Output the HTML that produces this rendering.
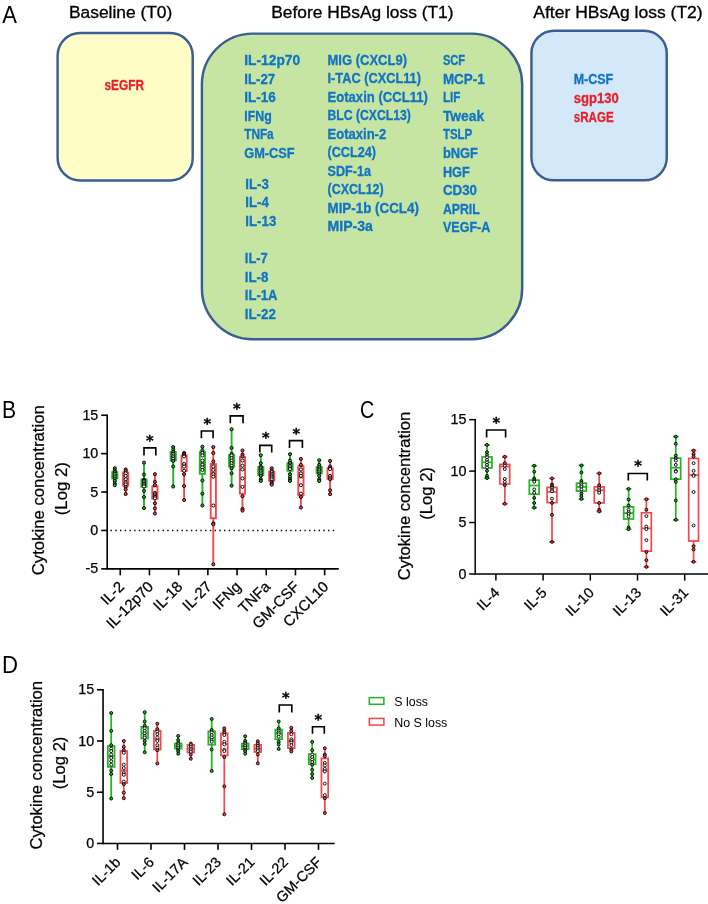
<!DOCTYPE html>
<html lang="en">
<head>
<meta charset="utf-8">
<title>Cytokine profile figure</title>
<style>
html,body{margin:0;padding:0;background:#fff;}
body{width:708px;height:904px;overflow:hidden;font-family:"Liberation Sans",Arial,sans-serif;}
svg{display:block;}
</style>
</head>
<body>
<svg width="708" height="904" viewBox="0 0 708 904" font-family="'Liberation Sans', Arial, sans-serif">
<rect width="708" height="904" fill="#fff"/>
<text x="2.30" y="23.10" font-size="23" fill="#000" textLength="14.7" lengthAdjust="spacingAndGlyphs">A</text>
<text x="69.00" y="18.30" font-size="16.2" fill="#000" textLength="103.2" lengthAdjust="spacingAndGlyphs" stroke="#000" stroke-width="0.3">Baseline (T0)</text>
<text x="271.20" y="18.30" font-size="16.2" fill="#000" textLength="182.3" lengthAdjust="spacingAndGlyphs" stroke="#000" stroke-width="0.3">Before HBsAg loss (T1)</text>
<text x="533.30" y="18.30" font-size="16.2" fill="#000" textLength="169.4" lengthAdjust="spacingAndGlyphs" stroke="#000" stroke-width="0.3">After HBsAg loss (T2)</text>
<rect x="57.6" y="33.05" width="135.1" height="147.5" rx="22.5" ry="22.5" fill="#FEFDC8" stroke="#3A5E94" stroke-width="2.45"/>
<rect x="201.9" y="33.6" width="320.3" height="305.6" rx="50.9" ry="50.9" fill="#C6E5A3" stroke="#3A5E94" stroke-width="2.45"/>
<rect x="531.45" y="30.7" width="135.3" height="149.65" rx="22.5" ry="22.5" fill="#D3E9FA" stroke="#3A5E94" stroke-width="2.45"/>
<text x="104.40" y="89.80" font-size="14.3" fill="#E8202A" font-weight="bold" stroke="#E8202A" stroke-width="0.3" textLength="39.6" lengthAdjust="spacingAndGlyphs">sEGFR</text>
<text x="573.70" y="84.30" font-size="14.3" fill="#1273C4" font-weight="bold" stroke="#1273C4" stroke-width="0.3" textLength="39.4" lengthAdjust="spacingAndGlyphs">M-CSF</text>
<text x="573.70" y="103.00" font-size="14.3" fill="#E8202A" font-weight="bold" stroke="#E8202A" stroke-width="0.3" textLength="45.2" lengthAdjust="spacingAndGlyphs">sgp130</text>
<text x="573.70" y="121.60" font-size="14.3" fill="#E8202A" font-weight="bold" stroke="#E8202A" stroke-width="0.3" textLength="40.0" lengthAdjust="spacingAndGlyphs">sRAGE</text>
<text x="244.20" y="65.30" font-size="14.3" fill="#1273C4" font-weight="bold" stroke="#1273C4" stroke-width="0.3" textLength="56.0" lengthAdjust="spacingAndGlyphs">IL-12p70</text>
<text x="244.20" y="83.70" font-size="14.3" fill="#1273C4" font-weight="bold" stroke="#1273C4" stroke-width="0.3" textLength="31.0" lengthAdjust="spacingAndGlyphs">IL-27</text>
<text x="244.20" y="102.20" font-size="14.3" fill="#1273C4" font-weight="bold" stroke="#1273C4" stroke-width="0.3" textLength="31.6" lengthAdjust="spacingAndGlyphs">IL-16</text>
<text x="244.20" y="120.60" font-size="14.3" fill="#1273C4" font-weight="bold" stroke="#1273C4" stroke-width="0.3" textLength="27.5" lengthAdjust="spacingAndGlyphs">IFNg</text>
<text x="244.20" y="139.10" font-size="14.3" fill="#1273C4" font-weight="bold" stroke="#1273C4" stroke-width="0.3" textLength="29.5" lengthAdjust="spacingAndGlyphs">TNFa</text>
<text x="244.20" y="157.80" font-size="14.3" fill="#1273C4" font-weight="bold" stroke="#1273C4" stroke-width="0.3" textLength="50.5" lengthAdjust="spacingAndGlyphs">GM-CSF</text>
<text x="245.30" y="188.50" font-size="14.3" fill="#1273C4" font-weight="bold" stroke="#1273C4" stroke-width="0.3" textLength="23.6" lengthAdjust="spacingAndGlyphs">IL-3</text>
<text x="245.30" y="207.20" font-size="14.3" fill="#1273C4" font-weight="bold" stroke="#1273C4" stroke-width="0.3" textLength="23.6" lengthAdjust="spacingAndGlyphs">IL-4</text>
<text x="245.30" y="225.70" font-size="14.3" fill="#1273C4" font-weight="bold" stroke="#1273C4" stroke-width="0.3" textLength="31.0" lengthAdjust="spacingAndGlyphs">IL-13</text>
<text x="244.80" y="263.00" font-size="14.3" fill="#1273C4" font-weight="bold" stroke="#1273C4" stroke-width="0.3" textLength="23.0" lengthAdjust="spacingAndGlyphs">IL-7</text>
<text x="244.80" y="281.60" font-size="14.3" fill="#1273C4" font-weight="bold" stroke="#1273C4" stroke-width="0.3" textLength="23.6" lengthAdjust="spacingAndGlyphs">IL-8</text>
<text x="244.80" y="300.30" font-size="14.3" fill="#1273C4" font-weight="bold" stroke="#1273C4" stroke-width="0.3" textLength="32.6" lengthAdjust="spacingAndGlyphs">IL-1A</text>
<text x="244.80" y="318.90" font-size="14.3" fill="#1273C4" font-weight="bold" stroke="#1273C4" stroke-width="0.3" textLength="31.0" lengthAdjust="spacingAndGlyphs">IL-22</text>
<text x="327.50" y="64.50" font-size="14.3" fill="#1273C4" font-weight="bold" stroke="#1273C4" stroke-width="0.3" textLength="79.5" lengthAdjust="spacingAndGlyphs">MIG (CXCL9)</text>
<text x="327.50" y="83.05" font-size="14.3" fill="#1273C4" font-weight="bold" stroke="#1273C4" stroke-width="0.3" textLength="93.5" lengthAdjust="spacingAndGlyphs">I-TAC (CXCL11)</text>
<text x="327.50" y="101.60" font-size="14.3" fill="#1273C4" font-weight="bold" stroke="#1273C4" stroke-width="0.3" textLength="100.4" lengthAdjust="spacingAndGlyphs">Eotaxin (CCL11)</text>
<text x="327.50" y="120.15" font-size="14.3" fill="#1273C4" font-weight="bold" stroke="#1273C4" stroke-width="0.3" textLength="83.3" lengthAdjust="spacingAndGlyphs">BLC (CXCL13)</text>
<text x="327.50" y="138.70" font-size="14.3" fill="#1273C4" font-weight="bold" stroke="#1273C4" stroke-width="0.3" textLength="58.7" lengthAdjust="spacingAndGlyphs">Eotaxin-2</text>
<text x="327.50" y="157.25" font-size="14.3" fill="#1273C4" font-weight="bold" stroke="#1273C4" stroke-width="0.3" textLength="48.5" lengthAdjust="spacingAndGlyphs">(CCL24)</text>
<text x="327.50" y="175.80" font-size="14.3" fill="#1273C4" font-weight="bold" stroke="#1273C4" stroke-width="0.3" textLength="43.5" lengthAdjust="spacingAndGlyphs">SDF-1a</text>
<text x="327.50" y="194.35" font-size="14.3" fill="#1273C4" font-weight="bold" stroke="#1273C4" stroke-width="0.3" textLength="56.2" lengthAdjust="spacingAndGlyphs">(CXCL12)</text>
<text x="327.50" y="212.90" font-size="14.3" fill="#1273C4" font-weight="bold" stroke="#1273C4" stroke-width="0.3" textLength="91.4" lengthAdjust="spacingAndGlyphs">MIP-1b (CCL4)</text>
<text x="327.50" y="231.45" font-size="14.3" fill="#1273C4" font-weight="bold" stroke="#1273C4" stroke-width="0.3" textLength="45.4" lengthAdjust="spacingAndGlyphs">MIP-3a</text>
<text x="442.90" y="64.90" font-size="14.3" fill="#1273C4" font-weight="bold" stroke="#1273C4" stroke-width="0.3" textLength="22.3" lengthAdjust="spacingAndGlyphs">SCF</text>
<text x="442.90" y="83.51" font-size="14.3" fill="#1273C4" font-weight="bold" stroke="#1273C4" stroke-width="0.3" textLength="41.8" lengthAdjust="spacingAndGlyphs">MCP-1</text>
<text x="442.90" y="102.12" font-size="14.3" fill="#1273C4" font-weight="bold" stroke="#1273C4" stroke-width="0.3" textLength="17.6" lengthAdjust="spacingAndGlyphs">LIF</text>
<text x="442.90" y="120.73" font-size="14.3" fill="#1273C4" font-weight="bold" stroke="#1273C4" stroke-width="0.3" textLength="41.2" lengthAdjust="spacingAndGlyphs">Tweak</text>
<text x="442.90" y="139.34" font-size="14.3" fill="#1273C4" font-weight="bold" stroke="#1273C4" stroke-width="0.3" textLength="29.4" lengthAdjust="spacingAndGlyphs">TSLP</text>
<text x="442.90" y="157.95" font-size="14.3" fill="#1273C4" font-weight="bold" stroke="#1273C4" stroke-width="0.3" textLength="35.0" lengthAdjust="spacingAndGlyphs">bNGF</text>
<text x="442.90" y="176.56" font-size="14.3" fill="#1273C4" font-weight="bold" stroke="#1273C4" stroke-width="0.3" textLength="26.9" lengthAdjust="spacingAndGlyphs">HGF</text>
<text x="442.90" y="195.17" font-size="14.3" fill="#1273C4" font-weight="bold" stroke="#1273C4" stroke-width="0.3" textLength="34.1" lengthAdjust="spacingAndGlyphs">CD30</text>
<text x="442.90" y="213.78" font-size="14.3" fill="#1273C4" font-weight="bold" stroke="#1273C4" stroke-width="0.3" textLength="36.9" lengthAdjust="spacingAndGlyphs">APRIL</text>
<text x="442.90" y="232.39" font-size="14.3" fill="#1273C4" font-weight="bold" stroke="#1273C4" stroke-width="0.3" textLength="47.4" lengthAdjust="spacingAndGlyphs">VEGF-A</text>
<text x="2.10" y="417.80" font-size="23" fill="#000" textLength="14.1" lengthAdjust="spacingAndGlyphs">B</text>
<line x1="110.50" y1="530.45" x2="336.00" y2="530.45" stroke="#000" stroke-width="1.4" stroke-dasharray="1.4 3.33"/>
<g stroke="#22B422" stroke-width="1.9" fill="none">
<line x1="114.80" y1="468.23" x2="114.80" y2="472.13"/>
<line x1="114.80" y1="478.40" x2="114.80" y2="485.18"/>
<rect x="112.20" y="472.13" width="5.20" height="6.27" fill="#fff"/>
<line x1="112.20" y1="475.35" x2="117.40" y2="475.35"/>
</g>
<g stroke="#000" stroke-width="0.95" fill="none">
<circle cx="114.80" cy="468.23" r="1.55" fill="#22B422"/>
<circle cx="114.80" cy="470.43" r="1.55" fill="#22B422"/>
<circle cx="114.80" cy="472.13" r="1.55" fill="#22B422"/>
<circle cx="114.80" cy="473.82" r="1.55" fill="#fff"/>
<circle cx="114.80" cy="475.35" r="1.55" fill="#fff"/>
<circle cx="114.80" cy="476.71" r="1.55" fill="#fff"/>
<circle cx="114.80" cy="478.40" r="1.55" fill="#22B422"/>
<circle cx="114.80" cy="480.95" r="1.55" fill="#22B422"/>
<circle cx="114.80" cy="483.49" r="1.55" fill="#22B422"/>
<circle cx="114.80" cy="485.18" r="1.55" fill="#22B422"/>
</g>
<g stroke="#F2484B" stroke-width="1.9" fill="none">
<line x1="125.70" y1="469.42" x2="125.70" y2="472.47"/>
<line x1="125.70" y1="485.52" x2="125.70" y2="494.00"/>
<rect x="123.10" y="472.47" width="5.20" height="13.05" fill="#fff"/>
<line x1="123.10" y1="479.25" x2="128.30" y2="479.25"/>
</g>
<g stroke="#000" stroke-width="0.95" fill="none">
<circle cx="125.70" cy="469.42" r="1.55" fill="#F2484B"/>
<circle cx="125.70" cy="471.11" r="1.55" fill="#F2484B"/>
<circle cx="125.70" cy="473.32" r="1.55" fill="#fff"/>
<circle cx="125.70" cy="475.86" r="1.55" fill="#fff"/>
<circle cx="125.70" cy="479.25" r="1.55" fill="#fff"/>
<circle cx="125.70" cy="482.64" r="1.55" fill="#fff"/>
<circle cx="125.70" cy="484.34" r="1.55" fill="#fff"/>
<circle cx="125.70" cy="486.88" r="1.55" fill="#F2484B"/>
<circle cx="125.70" cy="489.42" r="1.55" fill="#F2484B"/>
<circle cx="125.70" cy="494.00" r="1.55" fill="#F2484B"/>
</g>
<g stroke="#22B422" stroke-width="1.9" fill="none">
<line x1="144.00" y1="462.64" x2="144.00" y2="479.59"/>
<line x1="144.00" y1="486.88" x2="144.00" y2="508.07"/>
<rect x="141.40" y="479.59" width="5.20" height="7.29" fill="#fff"/>
<line x1="141.40" y1="483.15" x2="146.60" y2="483.15"/>
</g>
<g stroke="#000" stroke-width="0.95" fill="none">
<circle cx="144.00" cy="462.64" r="1.55" fill="#22B422"/>
<circle cx="144.00" cy="474.50" r="1.55" fill="#22B422"/>
<circle cx="144.00" cy="479.59" r="1.55" fill="#22B422"/>
<circle cx="144.00" cy="480.95" r="1.55" fill="#fff"/>
<circle cx="144.00" cy="482.30" r="1.55" fill="#fff"/>
<circle cx="144.00" cy="483.66" r="1.55" fill="#fff"/>
<circle cx="144.00" cy="485.18" r="1.55" fill="#fff"/>
<circle cx="144.00" cy="486.37" r="1.55" fill="#fff"/>
<circle cx="144.00" cy="490.78" r="1.55" fill="#22B422"/>
<circle cx="144.00" cy="497.05" r="1.55" fill="#22B422"/>
<circle cx="144.00" cy="508.07" r="1.55" fill="#22B422"/>
</g>
<g stroke="#F2484B" stroke-width="1.9" fill="none">
<line x1="154.90" y1="474.16" x2="154.90" y2="486.37"/>
<line x1="154.90" y1="498.75" x2="154.90" y2="513.50"/>
<rect x="152.30" y="486.37" width="5.20" height="12.38" fill="#fff"/>
<line x1="152.30" y1="494.17" x2="157.50" y2="494.17"/>
</g>
<g stroke="#000" stroke-width="0.95" fill="none">
<circle cx="154.90" cy="474.16" r="1.55" fill="#F2484B"/>
<circle cx="154.90" cy="481.79" r="1.55" fill="#F2484B"/>
<circle cx="154.90" cy="485.18" r="1.55" fill="#F2484B"/>
<circle cx="154.90" cy="492.81" r="1.55" fill="#fff"/>
<circle cx="154.90" cy="494.17" r="1.55" fill="#fff"/>
<circle cx="154.90" cy="495.53" r="1.55" fill="#fff"/>
<circle cx="154.90" cy="496.88" r="1.55" fill="#fff"/>
<circle cx="154.90" cy="498.24" r="1.55" fill="#fff"/>
<circle cx="154.90" cy="503.32" r="1.55" fill="#F2484B"/>
<circle cx="154.90" cy="508.41" r="1.55" fill="#F2484B"/>
<circle cx="154.90" cy="513.50" r="1.55" fill="#F2484B"/>
</g>
<g stroke="#22B422" stroke-width="1.9" fill="none">
<line x1="173.20" y1="447.04" x2="173.20" y2="452.12"/>
<line x1="173.20" y1="460.60" x2="173.20" y2="486.54"/>
<rect x="170.60" y="452.12" width="5.20" height="8.48" fill="#fff"/>
<line x1="170.60" y1="456.70" x2="175.80" y2="456.70"/>
</g>
<g stroke="#000" stroke-width="0.95" fill="none">
<circle cx="173.20" cy="447.04" r="1.55" fill="#22B422"/>
<circle cx="173.20" cy="449.58" r="1.55" fill="#22B422"/>
<circle cx="173.20" cy="451.79" r="1.55" fill="#22B422"/>
<circle cx="173.20" cy="453.82" r="1.55" fill="#fff"/>
<circle cx="173.20" cy="455.51" r="1.55" fill="#fff"/>
<circle cx="173.20" cy="457.21" r="1.55" fill="#fff"/>
<circle cx="173.20" cy="458.91" r="1.55" fill="#fff"/>
<circle cx="173.20" cy="460.94" r="1.55" fill="#22B422"/>
<circle cx="173.20" cy="466.53" r="1.55" fill="#22B422"/>
<circle cx="173.20" cy="486.54" r="1.55" fill="#22B422"/>
</g>
<g stroke="#F2484B" stroke-width="1.9" fill="none">
<line x1="184.10" y1="452.97" x2="184.10" y2="455.51"/>
<line x1="184.10" y1="471.11" x2="184.10" y2="499.93"/>
<rect x="181.50" y="455.51" width="5.20" height="15.60" fill="#fff"/>
<line x1="181.50" y1="465.18" x2="186.70" y2="465.18"/>
</g>
<g stroke="#000" stroke-width="0.95" fill="none">
<circle cx="184.10" cy="452.97" r="1.55" fill="#F2484B"/>
<circle cx="184.10" cy="454.16" r="1.55" fill="#F2484B"/>
<circle cx="184.10" cy="455.51" r="1.55" fill="#F2484B"/>
<circle cx="184.10" cy="456.53" r="1.55" fill="#fff"/>
<circle cx="184.10" cy="463.99" r="1.55" fill="#fff"/>
<circle cx="184.10" cy="466.53" r="1.55" fill="#fff"/>
<circle cx="184.10" cy="470.77" r="1.55" fill="#fff"/>
<circle cx="184.10" cy="474.16" r="1.55" fill="#F2484B"/>
<circle cx="184.10" cy="486.03" r="1.55" fill="#F2484B"/>
<circle cx="184.10" cy="499.93" r="1.55" fill="#F2484B"/>
</g>
<g stroke="#22B422" stroke-width="1.9" fill="none">
<line x1="202.40" y1="446.70" x2="202.40" y2="452.12"/>
<line x1="202.40" y1="473.82" x2="202.40" y2="505.53"/>
<rect x="199.80" y="452.12" width="5.20" height="21.70" fill="#fff"/>
<line x1="199.80" y1="462.80" x2="205.00" y2="462.80"/>
</g>
<g stroke="#000" stroke-width="0.95" fill="none">
<circle cx="202.40" cy="446.70" r="1.55" fill="#22B422"/>
<circle cx="202.40" cy="450.43" r="1.55" fill="#22B422"/>
<circle cx="202.40" cy="452.97" r="1.55" fill="#fff"/>
<circle cx="202.40" cy="455.51" r="1.55" fill="#fff"/>
<circle cx="202.40" cy="460.60" r="1.55" fill="#fff"/>
<circle cx="202.40" cy="464.84" r="1.55" fill="#fff"/>
<circle cx="202.40" cy="467.38" r="1.55" fill="#fff"/>
<circle cx="202.40" cy="469.93" r="1.55" fill="#fff"/>
<circle cx="202.40" cy="480.44" r="1.55" fill="#22B422"/>
<circle cx="202.40" cy="493.66" r="1.55" fill="#22B422"/>
<circle cx="202.40" cy="505.53" r="1.55" fill="#22B422"/>
</g>
<g stroke="#F2484B" stroke-width="1.9" fill="none">
<line x1="213.30" y1="447.04" x2="213.30" y2="463.99"/>
<line x1="213.30" y1="518.24" x2="213.30" y2="564.36"/>
<rect x="210.70" y="463.99" width="5.20" height="54.25" fill="#fff"/>
<line x1="210.70" y1="472.81" x2="215.90" y2="472.81"/>
</g>
<g stroke="#000" stroke-width="0.95" fill="none">
<circle cx="213.30" cy="447.04" r="1.55" fill="#F2484B"/>
<circle cx="213.30" cy="452.97" r="1.55" fill="#F2484B"/>
<circle cx="213.30" cy="461.45" r="1.55" fill="#F2484B"/>
<circle cx="213.30" cy="466.53" r="1.55" fill="#fff"/>
<circle cx="213.30" cy="469.93" r="1.55" fill="#fff"/>
<circle cx="213.30" cy="474.16" r="1.55" fill="#fff"/>
<circle cx="213.30" cy="476.71" r="1.55" fill="#fff"/>
<circle cx="213.30" cy="505.53" r="1.55" fill="#fff"/>
<circle cx="213.30" cy="523.33" r="1.55" fill="#F2484B"/>
<circle cx="213.30" cy="524.35" r="1.55" fill="#F2484B"/>
<circle cx="213.30" cy="564.36" r="1.55" fill="#F2484B"/>
</g>
<g stroke="#22B422" stroke-width="1.9" fill="none">
<line x1="231.60" y1="429.24" x2="231.60" y2="455.18"/>
<line x1="231.60" y1="466.53" x2="231.60" y2="485.69"/>
<rect x="229.00" y="455.18" width="5.20" height="11.36" fill="#fff"/>
<line x1="229.00" y1="461.28" x2="234.20" y2="461.28"/>
</g>
<g stroke="#000" stroke-width="0.95" fill="none">
<circle cx="231.60" cy="429.24" r="1.55" fill="#22B422"/>
<circle cx="231.60" cy="447.89" r="1.55" fill="#22B422"/>
<circle cx="231.60" cy="453.82" r="1.55" fill="#22B422"/>
<circle cx="231.60" cy="455.51" r="1.55" fill="#fff"/>
<circle cx="231.60" cy="458.06" r="1.55" fill="#fff"/>
<circle cx="231.60" cy="460.60" r="1.55" fill="#fff"/>
<circle cx="231.60" cy="463.14" r="1.55" fill="#fff"/>
<circle cx="231.60" cy="465.69" r="1.55" fill="#fff"/>
<circle cx="231.60" cy="468.23" r="1.55" fill="#22B422"/>
<circle cx="231.60" cy="473.32" r="1.55" fill="#22B422"/>
<circle cx="231.60" cy="485.69" r="1.55" fill="#22B422"/>
</g>
<g stroke="#F2484B" stroke-width="1.9" fill="none">
<line x1="242.50" y1="450.43" x2="242.50" y2="457.21"/>
<line x1="242.50" y1="493.66" x2="242.50" y2="510.61"/>
<rect x="239.90" y="457.21" width="5.20" height="36.45" fill="#fff"/>
<line x1="239.90" y1="469.59" x2="245.10" y2="469.59"/>
</g>
<g stroke="#000" stroke-width="0.95" fill="none">
<circle cx="242.50" cy="450.43" r="1.55" fill="#F2484B"/>
<circle cx="242.50" cy="454.67" r="1.55" fill="#F2484B"/>
<circle cx="242.50" cy="456.36" r="1.55" fill="#F2484B"/>
<circle cx="242.50" cy="460.60" r="1.55" fill="#fff"/>
<circle cx="242.50" cy="465.69" r="1.55" fill="#fff"/>
<circle cx="242.50" cy="469.42" r="1.55" fill="#fff"/>
<circle cx="242.50" cy="478.40" r="1.55" fill="#fff"/>
<circle cx="242.50" cy="486.88" r="1.55" fill="#fff"/>
<circle cx="242.50" cy="496.20" r="1.55" fill="#F2484B"/>
<circle cx="242.50" cy="508.92" r="1.55" fill="#F2484B"/>
<circle cx="242.50" cy="510.61" r="1.55" fill="#F2484B"/>
</g>
<g stroke="#22B422" stroke-width="1.9" fill="none">
<line x1="260.80" y1="455.18" x2="260.80" y2="467.04"/>
<line x1="260.80" y1="475.01" x2="260.80" y2="480.95"/>
<rect x="258.20" y="467.04" width="5.20" height="7.97" fill="#fff"/>
<line x1="258.20" y1="471.28" x2="263.40" y2="471.28"/>
</g>
<g stroke="#000" stroke-width="0.95" fill="none">
<circle cx="260.80" cy="455.18" r="1.55" fill="#22B422"/>
<circle cx="260.80" cy="463.14" r="1.55" fill="#22B422"/>
<circle cx="260.80" cy="466.53" r="1.55" fill="#22B422"/>
<circle cx="260.80" cy="468.23" r="1.55" fill="#fff"/>
<circle cx="260.80" cy="469.59" r="1.55" fill="#fff"/>
<circle cx="260.80" cy="470.94" r="1.55" fill="#fff"/>
<circle cx="260.80" cy="472.47" r="1.55" fill="#fff"/>
<circle cx="260.80" cy="474.16" r="1.55" fill="#fff"/>
<circle cx="260.80" cy="475.86" r="1.55" fill="#22B422"/>
<circle cx="260.80" cy="479.25" r="1.55" fill="#22B422"/>
<circle cx="260.80" cy="480.95" r="1.55" fill="#22B422"/>
</g>
<g stroke="#F2484B" stroke-width="1.9" fill="none">
<line x1="271.70" y1="468.23" x2="271.70" y2="471.62"/>
<line x1="271.70" y1="480.61" x2="271.70" y2="484.68"/>
<rect x="269.10" y="471.62" width="5.20" height="8.99" fill="#fff"/>
<line x1="269.10" y1="476.71" x2="274.30" y2="476.71"/>
</g>
<g stroke="#000" stroke-width="0.95" fill="none">
<circle cx="271.70" cy="468.23" r="1.55" fill="#F2484B"/>
<circle cx="271.70" cy="470.43" r="1.55" fill="#F2484B"/>
<circle cx="271.70" cy="472.13" r="1.55" fill="#fff"/>
<circle cx="271.70" cy="473.82" r="1.55" fill="#fff"/>
<circle cx="271.70" cy="475.18" r="1.55" fill="#fff"/>
<circle cx="271.70" cy="476.54" r="1.55" fill="#fff"/>
<circle cx="271.70" cy="477.89" r="1.55" fill="#fff"/>
<circle cx="271.70" cy="479.59" r="1.55" fill="#fff"/>
<circle cx="271.70" cy="481.79" r="1.55" fill="#F2484B"/>
<circle cx="271.70" cy="483.49" r="1.55" fill="#F2484B"/>
<circle cx="271.70" cy="484.68" r="1.55" fill="#F2484B"/>
</g>
<g stroke="#22B422" stroke-width="1.9" fill="none">
<line x1="290.00" y1="454.16" x2="290.00" y2="463.14"/>
<line x1="290.00" y1="470.77" x2="290.00" y2="480.95"/>
<rect x="287.40" y="463.14" width="5.20" height="7.63" fill="#fff"/>
<line x1="287.40" y1="467.38" x2="292.60" y2="467.38"/>
</g>
<g stroke="#000" stroke-width="0.95" fill="none">
<circle cx="290.00" cy="454.16" r="1.55" fill="#22B422"/>
<circle cx="290.00" cy="460.60" r="1.55" fill="#22B422"/>
<circle cx="290.00" cy="463.14" r="1.55" fill="#22B422"/>
<circle cx="290.00" cy="465.69" r="1.55" fill="#fff"/>
<circle cx="290.00" cy="467.38" r="1.55" fill="#fff"/>
<circle cx="290.00" cy="469.08" r="1.55" fill="#fff"/>
<circle cx="290.00" cy="474.16" r="1.55" fill="#22B422"/>
<circle cx="290.00" cy="476.71" r="1.55" fill="#22B422"/>
<circle cx="290.00" cy="479.25" r="1.55" fill="#22B422"/>
<circle cx="290.00" cy="480.95" r="1.55" fill="#22B422"/>
</g>
<g stroke="#F2484B" stroke-width="1.9" fill="none">
<line x1="300.90" y1="458.91" x2="300.90" y2="466.20"/>
<line x1="300.90" y1="495.36" x2="300.90" y2="507.56"/>
<rect x="298.30" y="466.20" width="5.20" height="29.16" fill="#fff"/>
<line x1="298.30" y1="477.55" x2="303.50" y2="477.55"/>
</g>
<g stroke="#000" stroke-width="0.95" fill="none">
<circle cx="300.90" cy="458.91" r="1.55" fill="#F2484B"/>
<circle cx="300.90" cy="464.84" r="1.55" fill="#F2484B"/>
<circle cx="300.90" cy="469.42" r="1.55" fill="#fff"/>
<circle cx="300.90" cy="473.32" r="1.55" fill="#fff"/>
<circle cx="300.90" cy="475.86" r="1.55" fill="#fff"/>
<circle cx="300.90" cy="485.18" r="1.55" fill="#fff"/>
<circle cx="300.90" cy="493.66" r="1.55" fill="#fff"/>
<circle cx="300.90" cy="497.05" r="1.55" fill="#F2484B"/>
<circle cx="300.90" cy="507.56" r="1.55" fill="#F2484B"/>
</g>
<g stroke="#22B422" stroke-width="1.9" fill="none">
<line x1="319.20" y1="460.26" x2="319.20" y2="467.04"/>
<line x1="319.20" y1="473.32" x2="319.20" y2="480.95"/>
<rect x="316.60" y="467.04" width="5.20" height="6.27" fill="#fff"/>
<line x1="316.60" y1="470.10" x2="321.80" y2="470.10"/>
</g>
<g stroke="#000" stroke-width="0.95" fill="none">
<circle cx="319.20" cy="460.26" r="1.55" fill="#22B422"/>
<circle cx="319.20" cy="464.84" r="1.55" fill="#22B422"/>
<circle cx="319.20" cy="467.38" r="1.55" fill="#fff"/>
<circle cx="319.20" cy="468.74" r="1.55" fill="#fff"/>
<circle cx="319.20" cy="470.10" r="1.55" fill="#fff"/>
<circle cx="319.20" cy="471.62" r="1.55" fill="#fff"/>
<circle cx="319.20" cy="473.32" r="1.55" fill="#22B422"/>
<circle cx="319.20" cy="475.86" r="1.55" fill="#22B422"/>
<circle cx="319.20" cy="479.25" r="1.55" fill="#22B422"/>
<circle cx="319.20" cy="480.95" r="1.55" fill="#22B422"/>
</g>
<g stroke="#F2484B" stroke-width="1.9" fill="none">
<line x1="330.10" y1="460.94" x2="330.10" y2="468.23"/>
<line x1="330.10" y1="478.91" x2="330.10" y2="494.17"/>
<rect x="327.50" y="468.23" width="5.20" height="10.68" fill="#fff"/>
<line x1="327.50" y1="476.37" x2="332.70" y2="476.37"/>
</g>
<g stroke="#000" stroke-width="0.95" fill="none">
<circle cx="330.10" cy="460.94" r="1.55" fill="#F2484B"/>
<circle cx="330.10" cy="466.53" r="1.55" fill="#F2484B"/>
<circle cx="330.10" cy="468.23" r="1.55" fill="#F2484B"/>
<circle cx="330.10" cy="469.08" r="1.55" fill="#fff"/>
<circle cx="330.10" cy="475.86" r="1.55" fill="#fff"/>
<circle cx="330.10" cy="477.55" r="1.55" fill="#fff"/>
<circle cx="330.10" cy="479.25" r="1.55" fill="#F2484B"/>
<circle cx="330.10" cy="490.27" r="1.55" fill="#F2484B"/>
<circle cx="330.10" cy="494.17" r="1.55" fill="#F2484B"/>
</g>
<g stroke="#000" stroke-width="1.6" fill="none" stroke-linecap="butt">
<line x1="107.20" y1="414.45" x2="107.20" y2="569.65"/>
<line x1="107.20" y1="568.85" x2="338.80" y2="568.85"/>
<line x1="101.20" y1="568.85" x2="107.20" y2="568.85"/>
<line x1="101.20" y1="530.45" x2="107.20" y2="530.45"/>
<line x1="101.20" y1="492.05" x2="107.20" y2="492.05"/>
<line x1="101.20" y1="453.65" x2="107.20" y2="453.65"/>
<line x1="101.20" y1="415.25" x2="107.20" y2="415.25"/>
<line x1="120.25" y1="568.85" x2="120.25" y2="575.35"/>
<line x1="149.45" y1="568.85" x2="149.45" y2="575.35"/>
<line x1="178.65" y1="568.85" x2="178.65" y2="575.35"/>
<line x1="207.85" y1="568.85" x2="207.85" y2="575.35"/>
<line x1="237.05" y1="568.85" x2="237.05" y2="575.35"/>
<line x1="266.25" y1="568.85" x2="266.25" y2="575.35"/>
<line x1="295.45" y1="568.85" x2="295.45" y2="575.35"/>
<line x1="324.65" y1="568.85" x2="324.65" y2="575.35"/>
</g>
<text x="98.30" y="573.47" font-size="14.3" fill="#000" text-anchor="end" stroke="#000" stroke-width="0.25">-5</text>
<text x="98.30" y="535.07" font-size="14.3" fill="#000" text-anchor="end" stroke="#000" stroke-width="0.25">0</text>
<text x="98.30" y="496.67" font-size="14.3" fill="#000" text-anchor="end" stroke="#000" stroke-width="0.25">5</text>
<text x="98.30" y="458.27" font-size="14.3" fill="#000" text-anchor="end" stroke="#000" stroke-width="0.25">10</text>
<text x="98.30" y="419.87" font-size="14.3" fill="#000" text-anchor="end" stroke="#000" stroke-width="0.25">15</text>
<text transform="translate(125.05,587.55) rotate(-45)" font-size="15" text-anchor="end" fill="#000" stroke="#000" stroke-width="0.25">IL-2</text>
<text transform="translate(154.25,587.55) rotate(-45)" font-size="15" text-anchor="end" fill="#000" stroke="#000" stroke-width="0.25">IL-12p70</text>
<text transform="translate(183.45,587.55) rotate(-45)" font-size="15" text-anchor="end" fill="#000" stroke="#000" stroke-width="0.25">IL-18</text>
<text transform="translate(212.65,587.55) rotate(-45)" font-size="15" text-anchor="end" fill="#000" stroke="#000" stroke-width="0.25">IL-27</text>
<text transform="translate(241.85,587.55) rotate(-45)" font-size="15" text-anchor="end" fill="#000" stroke="#000" stroke-width="0.25">IFNg</text>
<text transform="translate(271.05,587.55) rotate(-45)" font-size="15" text-anchor="end" fill="#000" stroke="#000" stroke-width="0.25">TNFa</text>
<text transform="translate(300.25,587.55) rotate(-45)" font-size="15" text-anchor="end" fill="#000" stroke="#000" stroke-width="0.25">GM-CSF</text>
<text transform="translate(329.45,587.55) rotate(-45)" font-size="15" text-anchor="end" fill="#000" stroke="#000" stroke-width="0.25">CXCL10</text>
<path d="M144.00,455.50 V447.90 H155.80 V455.50" fill="none" stroke="#000" stroke-width="1.65" stroke-linejoin="miter"/>
<text x="149.90" y="445.24" font-size="14.5" fill="#000" font-weight="bold" text-anchor="middle" stroke="#000" stroke-width="0.4" font-family="'DejaVu Sans', sans-serif">*</text>
<path d="M201.40,438.20 V431.00 H213.10 V438.20" fill="none" stroke="#000" stroke-width="1.65" stroke-linejoin="miter"/>
<text x="207.20" y="427.94" font-size="14.5" fill="#000" font-weight="bold" text-anchor="middle" stroke="#000" stroke-width="0.4" font-family="'DejaVu Sans', sans-serif">*</text>
<path d="M230.30,423.20 V415.90 H243.00 V423.20" fill="none" stroke="#000" stroke-width="1.65" stroke-linejoin="miter"/>
<text x="236.70" y="412.54" font-size="14.5" fill="#000" font-weight="bold" text-anchor="middle" stroke="#000" stroke-width="0.4" font-family="'DejaVu Sans', sans-serif">*</text>
<path d="M259.80,452.50 V445.30 H271.70 V452.50" fill="none" stroke="#000" stroke-width="1.65" stroke-linejoin="miter"/>
<text x="265.80" y="442.34" font-size="14.5" fill="#000" font-weight="bold" text-anchor="middle" stroke="#000" stroke-width="0.4" font-family="'DejaVu Sans', sans-serif">*</text>
<path d="M289.50,447.90 V440.60 H302.40 V447.90" fill="none" stroke="#000" stroke-width="1.65" stroke-linejoin="miter"/>
<text x="296.20" y="437.74" font-size="14.5" fill="#000" font-weight="bold" text-anchor="middle" stroke="#000" stroke-width="0.4" font-family="'DejaVu Sans', sans-serif">*</text>
<text transform="translate(44.20,490.20) rotate(-90)" font-size="17" text-anchor="middle" fill="#000" stroke="#000" stroke-width="0.25" textLength="170" lengthAdjust="spacingAndGlyphs">Cytokine concentration</text>
<text transform="translate(66.80,488.70) rotate(-90)" font-size="17" text-anchor="middle" fill="#000" stroke="#000" stroke-width="0.25" textLength="53" lengthAdjust="spacingAndGlyphs">(Log 2)</text>
<text x="360.00" y="417.90" font-size="23" fill="#000" textLength="14.2" lengthAdjust="spacingAndGlyphs">C</text>
<g stroke="#22B422" stroke-width="1.7" fill="none">
<line x1="487.00" y1="444.93" x2="487.00" y2="456.94"/>
<line x1="487.00" y1="467.94" x2="487.00" y2="478.09"/>
<line x1="484.20" y1="444.93" x2="489.80" y2="444.93"/>
<line x1="484.20" y1="478.09" x2="489.80" y2="478.09"/>
<rect x="482.10" y="456.94" width="9.80" height="11.00" fill="#fff"/>
<line x1="482.10" y1="462.35" x2="491.90" y2="462.35"/>
</g>
<g stroke="#000" stroke-width="0.95" fill="none">
<circle cx="487.00" cy="444.93" r="1.45" fill="#22B422"/>
<circle cx="487.00" cy="452.20" r="1.45" fill="#22B422"/>
<circle cx="487.00" cy="454.74" r="1.45" fill="#22B422"/>
<circle cx="487.00" cy="457.28" r="1.45" fill="#fff"/>
<circle cx="487.00" cy="459.82" r="1.45" fill="#fff"/>
<circle cx="487.00" cy="462.35" r="1.45" fill="#fff"/>
<circle cx="487.00" cy="464.89" r="1.45" fill="#fff"/>
<circle cx="487.00" cy="467.43" r="1.45" fill="#fff"/>
<circle cx="487.00" cy="470.81" r="1.45" fill="#22B422"/>
<circle cx="487.00" cy="475.89" r="1.45" fill="#22B422"/>
<circle cx="487.00" cy="478.09" r="1.45" fill="#22B422"/>
</g>
<g stroke="#F2484B" stroke-width="1.7" fill="none">
<line x1="504.80" y1="456.77" x2="504.80" y2="464.38"/>
<line x1="504.80" y1="484.01" x2="504.80" y2="503.80"/>
<line x1="502.00" y1="456.77" x2="507.60" y2="456.77"/>
<line x1="502.00" y1="503.80" x2="507.60" y2="503.80"/>
<rect x="499.90" y="464.38" width="9.80" height="19.62" fill="#fff"/>
<line x1="499.90" y1="466.58" x2="509.70" y2="466.58"/>
</g>
<g stroke="#000" stroke-width="0.95" fill="none">
<circle cx="504.80" cy="456.77" r="1.45" fill="#F2484B"/>
<circle cx="504.80" cy="463.20" r="1.45" fill="#F2484B"/>
<circle cx="504.80" cy="465.74" r="1.45" fill="#fff"/>
<circle cx="504.80" cy="469.12" r="1.45" fill="#fff"/>
<circle cx="504.80" cy="478.93" r="1.45" fill="#fff"/>
<circle cx="504.80" cy="481.81" r="1.45" fill="#fff"/>
<circle cx="504.80" cy="485.19" r="1.45" fill="#F2484B"/>
<circle cx="504.80" cy="503.80" r="1.45" fill="#F2484B"/>
</g>
<g stroke="#22B422" stroke-width="1.7" fill="none">
<line x1="534.20" y1="465.74" x2="534.20" y2="480.12"/>
<line x1="534.20" y1="494.16" x2="534.20" y2="507.69"/>
<line x1="531.40" y1="465.74" x2="537.00" y2="465.74"/>
<line x1="531.40" y1="507.69" x2="537.00" y2="507.69"/>
<rect x="529.30" y="480.12" width="9.80" height="14.04" fill="#fff"/>
<line x1="529.30" y1="485.53" x2="539.10" y2="485.53"/>
</g>
<g stroke="#000" stroke-width="0.95" fill="none">
<circle cx="534.20" cy="465.74" r="1.45" fill="#22B422"/>
<circle cx="534.20" cy="471.66" r="1.45" fill="#22B422"/>
<circle cx="534.20" cy="478.42" r="1.45" fill="#22B422"/>
<circle cx="534.20" cy="480.12" r="1.45" fill="#22B422"/>
<circle cx="534.20" cy="481.81" r="1.45" fill="#fff"/>
<circle cx="534.20" cy="489.42" r="1.45" fill="#fff"/>
<circle cx="534.20" cy="492.80" r="1.45" fill="#fff"/>
<circle cx="534.20" cy="497.88" r="1.45" fill="#22B422"/>
<circle cx="534.20" cy="502.95" r="1.45" fill="#22B422"/>
<circle cx="534.20" cy="507.69" r="1.45" fill="#22B422"/>
</g>
<g stroke="#F2484B" stroke-width="1.7" fill="none">
<line x1="552.00" y1="478.42" x2="552.00" y2="487.39"/>
<line x1="552.00" y1="502.61" x2="552.00" y2="541.86"/>
<line x1="549.20" y1="478.42" x2="554.80" y2="478.42"/>
<line x1="549.20" y1="541.86" x2="554.80" y2="541.86"/>
<rect x="547.10" y="487.39" width="9.80" height="15.22" fill="#fff"/>
<line x1="547.10" y1="491.96" x2="556.90" y2="491.96"/>
</g>
<g stroke="#000" stroke-width="0.95" fill="none">
<circle cx="552.00" cy="478.42" r="1.45" fill="#F2484B"/>
<circle cx="552.00" cy="484.35" r="1.45" fill="#F2484B"/>
<circle cx="552.00" cy="486.04" r="1.45" fill="#F2484B"/>
<circle cx="552.00" cy="487.73" r="1.45" fill="#fff"/>
<circle cx="552.00" cy="489.42" r="1.45" fill="#fff"/>
<circle cx="552.00" cy="491.11" r="1.45" fill="#fff"/>
<circle cx="552.00" cy="498.72" r="1.45" fill="#fff"/>
<circle cx="552.00" cy="502.95" r="1.45" fill="#F2484B"/>
<circle cx="552.00" cy="514.79" r="1.45" fill="#F2484B"/>
<circle cx="552.00" cy="541.86" r="1.45" fill="#F2484B"/>
</g>
<g stroke="#22B422" stroke-width="1.7" fill="none">
<line x1="581.40" y1="465.40" x2="581.40" y2="483.16"/>
<line x1="581.40" y1="491.11" x2="581.40" y2="499.06"/>
<line x1="578.60" y1="465.40" x2="584.20" y2="465.40"/>
<line x1="578.60" y1="499.06" x2="584.20" y2="499.06"/>
<rect x="576.50" y="483.16" width="9.80" height="7.95" fill="#fff"/>
<line x1="576.50" y1="486.88" x2="586.30" y2="486.88"/>
</g>
<g stroke="#000" stroke-width="0.95" fill="none">
<circle cx="581.40" cy="465.40" r="1.45" fill="#22B422"/>
<circle cx="581.40" cy="472.50" r="1.45" fill="#22B422"/>
<circle cx="581.40" cy="480.96" r="1.45" fill="#22B422"/>
<circle cx="581.40" cy="483.50" r="1.45" fill="#fff"/>
<circle cx="581.40" cy="485.19" r="1.45" fill="#fff"/>
<circle cx="581.40" cy="486.88" r="1.45" fill="#fff"/>
<circle cx="581.40" cy="489.42" r="1.45" fill="#fff"/>
<circle cx="581.40" cy="493.65" r="1.45" fill="#22B422"/>
<circle cx="581.40" cy="496.19" r="1.45" fill="#22B422"/>
<circle cx="581.40" cy="499.06" r="1.45" fill="#22B422"/>
</g>
<g stroke="#F2484B" stroke-width="1.7" fill="none">
<line x1="599.20" y1="473.35" x2="599.20" y2="486.88"/>
<line x1="599.20" y1="502.95" x2="599.20" y2="511.41"/>
<line x1="596.40" y1="473.35" x2="602.00" y2="473.35"/>
<line x1="596.40" y1="511.41" x2="602.00" y2="511.41"/>
<rect x="594.30" y="486.88" width="9.80" height="16.07" fill="#fff"/>
<line x1="594.30" y1="490.27" x2="604.10" y2="490.27"/>
</g>
<g stroke="#000" stroke-width="0.95" fill="none">
<circle cx="599.20" cy="473.35" r="1.45" fill="#F2484B"/>
<circle cx="599.20" cy="485.19" r="1.45" fill="#F2484B"/>
<circle cx="599.20" cy="487.73" r="1.45" fill="#fff"/>
<circle cx="599.20" cy="489.42" r="1.45" fill="#fff"/>
<circle cx="599.20" cy="491.11" r="1.45" fill="#fff"/>
<circle cx="599.20" cy="492.80" r="1.45" fill="#fff"/>
<circle cx="599.20" cy="502.95" r="1.45" fill="#F2484B"/>
<circle cx="599.20" cy="509.72" r="1.45" fill="#F2484B"/>
<circle cx="599.20" cy="511.41" r="1.45" fill="#F2484B"/>
</g>
<g stroke="#22B422" stroke-width="1.7" fill="none">
<line x1="628.60" y1="488.91" x2="628.60" y2="506.84"/>
<line x1="628.60" y1="519.02" x2="628.60" y2="529.17"/>
<line x1="625.80" y1="488.91" x2="631.40" y2="488.91"/>
<line x1="625.80" y1="529.17" x2="631.40" y2="529.17"/>
<rect x="623.70" y="506.84" width="9.80" height="12.18" fill="#fff"/>
<line x1="623.70" y1="513.10" x2="633.50" y2="513.10"/>
</g>
<g stroke="#000" stroke-width="0.95" fill="none">
<circle cx="628.60" cy="488.91" r="1.45" fill="#22B422"/>
<circle cx="628.60" cy="499.57" r="1.45" fill="#22B422"/>
<circle cx="628.60" cy="505.49" r="1.45" fill="#22B422"/>
<circle cx="628.60" cy="509.72" r="1.45" fill="#fff"/>
<circle cx="628.60" cy="512.26" r="1.45" fill="#fff"/>
<circle cx="628.60" cy="513.95" r="1.45" fill="#fff"/>
<circle cx="628.60" cy="516.49" r="1.45" fill="#fff"/>
<circle cx="628.60" cy="527.48" r="1.45" fill="#22B422"/>
<circle cx="628.60" cy="529.17" r="1.45" fill="#22B422"/>
</g>
<g stroke="#F2484B" stroke-width="1.7" fill="none">
<line x1="646.40" y1="499.23" x2="646.40" y2="512.76"/>
<line x1="646.40" y1="551.16" x2="646.40" y2="566.90"/>
<line x1="643.60" y1="499.23" x2="649.20" y2="499.23"/>
<line x1="643.60" y1="566.90" x2="649.20" y2="566.90"/>
<rect x="641.50" y="512.76" width="9.80" height="38.40" fill="#fff"/>
<line x1="641.50" y1="528.33" x2="651.30" y2="528.33"/>
</g>
<g stroke="#000" stroke-width="0.95" fill="none">
<circle cx="646.40" cy="499.23" r="1.45" fill="#F2484B"/>
<circle cx="646.40" cy="509.72" r="1.45" fill="#F2484B"/>
<circle cx="646.40" cy="516.15" r="1.45" fill="#fff"/>
<circle cx="646.40" cy="526.64" r="1.45" fill="#fff"/>
<circle cx="646.40" cy="529.17" r="1.45" fill="#fff"/>
<circle cx="646.40" cy="540.17" r="1.45" fill="#fff"/>
<circle cx="646.40" cy="552.01" r="1.45" fill="#F2484B"/>
<circle cx="646.40" cy="560.13" r="1.45" fill="#F2484B"/>
<circle cx="646.40" cy="566.90" r="1.45" fill="#F2484B"/>
</g>
<g stroke="#22B422" stroke-width="1.7" fill="none">
<line x1="675.80" y1="436.64" x2="675.80" y2="458.13"/>
<line x1="675.80" y1="479.27" x2="675.80" y2="519.87"/>
<line x1="673.00" y1="436.64" x2="678.60" y2="436.64"/>
<line x1="673.00" y1="519.87" x2="678.60" y2="519.87"/>
<rect x="670.90" y="458.13" width="9.80" height="21.14" fill="#fff"/>
<line x1="670.90" y1="467.77" x2="680.70" y2="467.77"/>
</g>
<g stroke="#000" stroke-width="0.95" fill="none">
<circle cx="675.80" cy="436.64" r="1.45" fill="#22B422"/>
<circle cx="675.80" cy="443.75" r="1.45" fill="#22B422"/>
<circle cx="675.80" cy="455.59" r="1.45" fill="#22B422"/>
<circle cx="675.80" cy="458.13" r="1.45" fill="#22B422"/>
<circle cx="675.80" cy="460.66" r="1.45" fill="#fff"/>
<circle cx="675.80" cy="464.89" r="1.45" fill="#fff"/>
<circle cx="675.80" cy="470.81" r="1.45" fill="#fff"/>
<circle cx="675.80" cy="471.66" r="1.45" fill="#fff"/>
<circle cx="675.80" cy="479.27" r="1.45" fill="#22B422"/>
<circle cx="675.80" cy="481.81" r="1.45" fill="#22B422"/>
<circle cx="675.80" cy="500.42" r="1.45" fill="#22B422"/>
<circle cx="675.80" cy="519.87" r="1.45" fill="#22B422"/>
</g>
<g stroke="#F2484B" stroke-width="1.7" fill="none">
<line x1="693.60" y1="450.51" x2="693.60" y2="458.46"/>
<line x1="693.60" y1="541.01" x2="693.60" y2="561.82"/>
<line x1="690.80" y1="450.51" x2="696.40" y2="450.51"/>
<line x1="690.80" y1="561.82" x2="696.40" y2="561.82"/>
<rect x="688.70" y="458.46" width="9.80" height="82.55" fill="#fff"/>
<line x1="688.70" y1="475.04" x2="698.50" y2="475.04"/>
</g>
<g stroke="#000" stroke-width="0.95" fill="none">
<circle cx="693.60" cy="450.51" r="1.45" fill="#F2484B"/>
<circle cx="693.60" cy="453.90" r="1.45" fill="#F2484B"/>
<circle cx="693.60" cy="456.43" r="1.45" fill="#F2484B"/>
<circle cx="693.60" cy="463.20" r="1.45" fill="#fff"/>
<circle cx="693.60" cy="470.81" r="1.45" fill="#fff"/>
<circle cx="693.60" cy="475.04" r="1.45" fill="#fff"/>
<circle cx="693.60" cy="475.89" r="1.45" fill="#fff"/>
<circle cx="693.60" cy="491.96" r="1.45" fill="#fff"/>
<circle cx="693.60" cy="525.45" r="1.45" fill="#fff"/>
<circle cx="693.60" cy="546.09" r="1.45" fill="#F2484B"/>
<circle cx="693.60" cy="549.47" r="1.45" fill="#F2484B"/>
<circle cx="693.60" cy="561.82" r="1.45" fill="#F2484B"/>
</g>
<g stroke="#000" stroke-width="1.5" fill="none" stroke-linecap="butt">
<line x1="475.20" y1="418.90" x2="475.20" y2="574.75"/>
<line x1="475.20" y1="574.00" x2="708.00" y2="574.00"/>
<line x1="469.20" y1="574.00" x2="475.20" y2="574.00"/>
<line x1="469.20" y1="522.55" x2="475.20" y2="522.55"/>
<line x1="469.20" y1="471.10" x2="475.20" y2="471.10"/>
<line x1="469.20" y1="419.65" x2="475.20" y2="419.65"/>
<line x1="495.90" y1="574.00" x2="495.90" y2="580.60"/>
<line x1="543.10" y1="574.00" x2="543.10" y2="580.60"/>
<line x1="590.30" y1="574.00" x2="590.30" y2="580.60"/>
<line x1="637.50" y1="574.00" x2="637.50" y2="580.60"/>
<line x1="684.70" y1="574.00" x2="684.70" y2="580.60"/>
</g>
<text x="466.50" y="578.62" font-size="14.3" fill="#000" text-anchor="end" stroke="#000" stroke-width="0.25">0</text>
<text x="466.50" y="527.17" font-size="14.3" fill="#000" text-anchor="end" stroke="#000" stroke-width="0.25">5</text>
<text x="466.50" y="475.72" font-size="14.3" fill="#000" text-anchor="end" stroke="#000" stroke-width="0.25">10</text>
<text x="466.50" y="424.27" font-size="14.3" fill="#000" text-anchor="end" stroke="#000" stroke-width="0.25">15</text>
<text transform="translate(500.50,593.50) rotate(-45)" font-size="14.5" text-anchor="end" fill="#000" stroke="#000" stroke-width="0.25">IL-4</text>
<text transform="translate(547.70,593.50) rotate(-45)" font-size="14.5" text-anchor="end" fill="#000" stroke="#000" stroke-width="0.25">IL-5</text>
<text transform="translate(594.90,593.50) rotate(-45)" font-size="14.5" text-anchor="end" fill="#000" stroke="#000" stroke-width="0.25">IL-10</text>
<text transform="translate(642.10,593.50) rotate(-45)" font-size="14.5" text-anchor="end" fill="#000" stroke="#000" stroke-width="0.25">IL-13</text>
<text transform="translate(689.30,593.50) rotate(-45)" font-size="14.5" text-anchor="end" fill="#000" stroke="#000" stroke-width="0.25">IL-31</text>
<path d="M486.60,437.60 V430.00 H505.60 V437.60" fill="none" stroke="#000" stroke-width="1.65" stroke-linejoin="miter"/>
<text x="496.30" y="427.14" font-size="14.5" fill="#000" font-weight="bold" text-anchor="middle" stroke="#000" stroke-width="0.4" font-family="'DejaVu Sans', sans-serif">*</text>
<path d="M628.30,480.40 V473.50 H647.30 V480.40" fill="none" stroke="#000" stroke-width="1.65" stroke-linejoin="miter"/>
<text x="638.00" y="470.14" font-size="14.5" fill="#000" font-weight="bold" text-anchor="middle" stroke="#000" stroke-width="0.4" font-family="'DejaVu Sans', sans-serif">*</text>
<text transform="translate(410.30,496.00) rotate(-90)" font-size="17" text-anchor="middle" fill="#000" stroke="#000" stroke-width="0.25" textLength="168.5" lengthAdjust="spacingAndGlyphs">Cytokine concentration</text>
<text transform="translate(432.20,493.40) rotate(-90)" font-size="17" text-anchor="middle" fill="#000" stroke="#000" stroke-width="0.25" textLength="52.6" lengthAdjust="spacingAndGlyphs">(Log 2)</text>
<text x="2.10" y="672.60" font-size="23" fill="#000" textLength="16.0" lengthAdjust="spacingAndGlyphs">D</text>
<g stroke="#22B422" stroke-width="1.75" fill="none">
<line x1="111.20" y1="713.02" x2="111.20" y2="746.05"/>
<line x1="111.20" y1="766.88" x2="111.20" y2="798.56"/>
<rect x="107.85" y="746.05" width="6.70" height="20.84" fill="#fff"/>
<line x1="107.85" y1="756.21" x2="114.55" y2="756.21"/>
</g>
<g stroke="#000" stroke-width="0.9" fill="none">
<circle cx="111.20" cy="713.02" r="1.5" fill="#22B422"/>
<circle cx="111.20" cy="730.80" r="1.5" fill="#22B422"/>
<circle cx="111.20" cy="745.20" r="1.5" fill="#22B422"/>
<circle cx="111.20" cy="748.59" r="1.5" fill="#fff"/>
<circle cx="111.20" cy="751.13" r="1.5" fill="#fff"/>
<circle cx="111.20" cy="754.52" r="1.5" fill="#fff"/>
<circle cx="111.20" cy="757.91" r="1.5" fill="#fff"/>
<circle cx="111.20" cy="761.29" r="1.5" fill="#fff"/>
<circle cx="111.20" cy="764.68" r="1.5" fill="#fff"/>
<circle cx="111.20" cy="770.61" r="1.5" fill="#22B422"/>
<circle cx="111.20" cy="774.00" r="1.5" fill="#22B422"/>
<circle cx="111.20" cy="798.56" r="1.5" fill="#22B422"/>
</g>
<g stroke="#F2484B" stroke-width="1.75" fill="none">
<line x1="123.80" y1="740.97" x2="123.80" y2="751.13"/>
<line x1="123.80" y1="782.98" x2="123.80" y2="798.22"/>
<rect x="120.45" y="751.13" width="6.70" height="31.85" fill="#fff"/>
<line x1="120.45" y1="770.61" x2="127.15" y2="770.61"/>
</g>
<g stroke="#000" stroke-width="0.9" fill="none">
<circle cx="123.80" cy="740.97" r="1.5" fill="#F2484B"/>
<circle cx="123.80" cy="746.89" r="1.5" fill="#F2484B"/>
<circle cx="123.80" cy="750.28" r="1.5" fill="#F2484B"/>
<circle cx="123.80" cy="752.82" r="1.5" fill="#fff"/>
<circle cx="123.80" cy="764.68" r="1.5" fill="#fff"/>
<circle cx="123.80" cy="768.07" r="1.5" fill="#fff"/>
<circle cx="123.80" cy="773.15" r="1.5" fill="#fff"/>
<circle cx="123.80" cy="774.85" r="1.5" fill="#fff"/>
<circle cx="123.80" cy="781.62" r="1.5" fill="#fff"/>
<circle cx="123.80" cy="784.16" r="1.5" fill="#F2484B"/>
<circle cx="123.80" cy="792.63" r="1.5" fill="#F2484B"/>
<circle cx="123.80" cy="798.22" r="1.5" fill="#F2484B"/>
</g>
<g stroke="#22B422" stroke-width="1.75" fill="none">
<line x1="144.70" y1="712.17" x2="144.70" y2="726.91"/>
<line x1="144.70" y1="738.43" x2="144.70" y2="752.32"/>
<rect x="141.35" y="726.91" width="6.70" height="11.52" fill="#fff"/>
<line x1="141.35" y1="733.34" x2="148.05" y2="733.34"/>
</g>
<g stroke="#000" stroke-width="0.9" fill="none">
<circle cx="144.70" cy="712.17" r="1.5" fill="#22B422"/>
<circle cx="144.70" cy="721.49" r="1.5" fill="#22B422"/>
<circle cx="144.70" cy="725.72" r="1.5" fill="#22B422"/>
<circle cx="144.70" cy="728.26" r="1.5" fill="#fff"/>
<circle cx="144.70" cy="730.80" r="1.5" fill="#fff"/>
<circle cx="144.70" cy="733.34" r="1.5" fill="#fff"/>
<circle cx="144.70" cy="735.88" r="1.5" fill="#fff"/>
<circle cx="144.70" cy="737.58" r="1.5" fill="#fff"/>
<circle cx="144.70" cy="740.97" r="1.5" fill="#22B422"/>
<circle cx="144.70" cy="744.02" r="1.5" fill="#22B422"/>
<circle cx="144.70" cy="752.32" r="1.5" fill="#22B422"/>
</g>
<g stroke="#F2484B" stroke-width="1.75" fill="none">
<line x1="157.30" y1="723.69" x2="157.30" y2="730.80"/>
<line x1="157.30" y1="749.44" x2="157.30" y2="763.50"/>
<rect x="153.95" y="730.80" width="6.70" height="18.63" fill="#fff"/>
<line x1="153.95" y1="739.27" x2="160.65" y2="739.27"/>
</g>
<g stroke="#000" stroke-width="0.9" fill="none">
<circle cx="157.30" cy="723.69" r="1.5" fill="#F2484B"/>
<circle cx="157.30" cy="729.11" r="1.5" fill="#F2484B"/>
<circle cx="157.30" cy="731.65" r="1.5" fill="#fff"/>
<circle cx="157.30" cy="734.19" r="1.5" fill="#fff"/>
<circle cx="157.30" cy="737.58" r="1.5" fill="#fff"/>
<circle cx="157.30" cy="740.97" r="1.5" fill="#fff"/>
<circle cx="157.30" cy="745.20" r="1.5" fill="#fff"/>
<circle cx="157.30" cy="747.74" r="1.5" fill="#fff"/>
<circle cx="157.30" cy="750.28" r="1.5" fill="#F2484B"/>
<circle cx="157.30" cy="763.50" r="1.5" fill="#F2484B"/>
</g>
<g stroke="#22B422" stroke-width="1.75" fill="none">
<line x1="178.20" y1="735.88" x2="178.20" y2="743.51"/>
<line x1="178.20" y1="748.59" x2="178.20" y2="753.67"/>
<rect x="174.85" y="743.51" width="6.70" height="5.08" fill="#fff"/>
<line x1="174.85" y1="746.05" x2="181.55" y2="746.05"/>
</g>
<g stroke="#000" stroke-width="0.9" fill="none">
<circle cx="178.20" cy="735.88" r="1.5" fill="#22B422"/>
<circle cx="178.20" cy="740.12" r="1.5" fill="#22B422"/>
<circle cx="178.20" cy="742.66" r="1.5" fill="#22B422"/>
<circle cx="178.20" cy="744.35" r="1.5" fill="#fff"/>
<circle cx="178.20" cy="746.05" r="1.5" fill="#fff"/>
<circle cx="178.20" cy="747.74" r="1.5" fill="#fff"/>
<circle cx="178.20" cy="749.44" r="1.5" fill="#22B422"/>
<circle cx="178.20" cy="751.13" r="1.5" fill="#22B422"/>
<circle cx="178.20" cy="753.67" r="1.5" fill="#22B422"/>
</g>
<g stroke="#F2484B" stroke-width="1.75" fill="none">
<line x1="190.80" y1="743.51" x2="190.80" y2="744.86"/>
<line x1="190.80" y1="752.48" x2="190.80" y2="758.75"/>
<rect x="187.45" y="744.86" width="6.70" height="7.62" fill="#fff"/>
<line x1="187.45" y1="748.59" x2="194.15" y2="748.59"/>
</g>
<g stroke="#000" stroke-width="0.9" fill="none">
<circle cx="190.80" cy="743.51" r="1.5" fill="#F2484B"/>
<circle cx="190.80" cy="745.20" r="1.5" fill="#fff"/>
<circle cx="190.80" cy="746.89" r="1.5" fill="#fff"/>
<circle cx="190.80" cy="748.59" r="1.5" fill="#fff"/>
<circle cx="190.80" cy="750.28" r="1.5" fill="#fff"/>
<circle cx="190.80" cy="751.98" r="1.5" fill="#fff"/>
<circle cx="190.80" cy="754.52" r="1.5" fill="#F2484B"/>
<circle cx="190.80" cy="758.75" r="1.5" fill="#F2484B"/>
</g>
<g stroke="#22B422" stroke-width="1.75" fill="none">
<line x1="211.70" y1="718.94" x2="211.70" y2="731.31"/>
<line x1="211.70" y1="744.69" x2="211.70" y2="770.95"/>
<rect x="208.35" y="731.31" width="6.70" height="13.38" fill="#fff"/>
<line x1="208.35" y1="737.58" x2="215.05" y2="737.58"/>
</g>
<g stroke="#000" stroke-width="0.9" fill="none">
<circle cx="211.70" cy="718.94" r="1.5" fill="#22B422"/>
<circle cx="211.70" cy="729.96" r="1.5" fill="#22B422"/>
<circle cx="211.70" cy="732.50" r="1.5" fill="#fff"/>
<circle cx="211.70" cy="735.04" r="1.5" fill="#fff"/>
<circle cx="211.70" cy="737.58" r="1.5" fill="#fff"/>
<circle cx="211.70" cy="740.12" r="1.5" fill="#fff"/>
<circle cx="211.70" cy="741.81" r="1.5" fill="#fff"/>
<circle cx="211.70" cy="749.44" r="1.5" fill="#22B422"/>
<circle cx="211.70" cy="770.95" r="1.5" fill="#22B422"/>
</g>
<g stroke="#F2484B" stroke-width="1.75" fill="none">
<line x1="224.30" y1="728.26" x2="224.30" y2="733.34"/>
<line x1="224.30" y1="755.36" x2="224.30" y2="814.31"/>
<rect x="220.95" y="733.34" width="6.70" height="22.02" fill="#fff"/>
<line x1="220.95" y1="744.02" x2="227.65" y2="744.02"/>
</g>
<g stroke="#000" stroke-width="0.9" fill="none">
<circle cx="224.30" cy="728.26" r="1.5" fill="#F2484B"/>
<circle cx="224.30" cy="730.80" r="1.5" fill="#F2484B"/>
<circle cx="224.30" cy="732.50" r="1.5" fill="#F2484B"/>
<circle cx="224.30" cy="735.04" r="1.5" fill="#fff"/>
<circle cx="224.30" cy="741.81" r="1.5" fill="#fff"/>
<circle cx="224.30" cy="744.35" r="1.5" fill="#fff"/>
<circle cx="224.30" cy="749.77" r="1.5" fill="#fff"/>
<circle cx="224.30" cy="751.13" r="1.5" fill="#fff"/>
<circle cx="224.30" cy="757.06" r="1.5" fill="#F2484B"/>
<circle cx="224.30" cy="786.36" r="1.5" fill="#F2484B"/>
<circle cx="224.30" cy="814.31" r="1.5" fill="#F2484B"/>
</g>
<g stroke="#22B422" stroke-width="1.75" fill="none">
<line x1="245.20" y1="736.22" x2="245.20" y2="743.51"/>
<line x1="245.20" y1="749.10" x2="245.20" y2="753.67"/>
<rect x="241.85" y="743.51" width="6.70" height="5.59" fill="#fff"/>
<line x1="241.85" y1="746.05" x2="248.55" y2="746.05"/>
</g>
<g stroke="#000" stroke-width="0.9" fill="none">
<circle cx="245.20" cy="736.22" r="1.5" fill="#22B422"/>
<circle cx="245.20" cy="740.97" r="1.5" fill="#22B422"/>
<circle cx="245.20" cy="742.66" r="1.5" fill="#22B422"/>
<circle cx="245.20" cy="744.35" r="1.5" fill="#fff"/>
<circle cx="245.20" cy="746.05" r="1.5" fill="#fff"/>
<circle cx="245.20" cy="747.74" r="1.5" fill="#fff"/>
<circle cx="245.20" cy="749.44" r="1.5" fill="#22B422"/>
<circle cx="245.20" cy="751.13" r="1.5" fill="#22B422"/>
<circle cx="245.20" cy="753.67" r="1.5" fill="#22B422"/>
</g>
<g stroke="#F2484B" stroke-width="1.75" fill="none">
<line x1="257.80" y1="741.30" x2="257.80" y2="744.86"/>
<line x1="257.80" y1="751.98" x2="257.80" y2="763.33"/>
<rect x="254.45" y="744.86" width="6.70" height="7.11" fill="#fff"/>
<line x1="254.45" y1="748.59" x2="261.15" y2="748.59"/>
</g>
<g stroke="#000" stroke-width="0.9" fill="none">
<circle cx="257.80" cy="741.30" r="1.5" fill="#F2484B"/>
<circle cx="257.80" cy="743.51" r="1.5" fill="#F2484B"/>
<circle cx="257.80" cy="746.05" r="1.5" fill="#fff"/>
<circle cx="257.80" cy="747.74" r="1.5" fill="#fff"/>
<circle cx="257.80" cy="749.44" r="1.5" fill="#fff"/>
<circle cx="257.80" cy="751.13" r="1.5" fill="#fff"/>
<circle cx="257.80" cy="754.52" r="1.5" fill="#F2484B"/>
<circle cx="257.80" cy="763.33" r="1.5" fill="#F2484B"/>
</g>
<g stroke="#22B422" stroke-width="1.75" fill="none">
<line x1="278.70" y1="721.49" x2="278.70" y2="729.62"/>
<line x1="278.70" y1="739.27" x2="278.70" y2="748.93"/>
<rect x="275.35" y="729.62" width="6.70" height="9.66" fill="#fff"/>
<line x1="275.35" y1="733.34" x2="282.05" y2="733.34"/>
</g>
<g stroke="#000" stroke-width="0.9" fill="none">
<circle cx="278.70" cy="721.49" r="1.5" fill="#22B422"/>
<circle cx="278.70" cy="728.26" r="1.5" fill="#22B422"/>
<circle cx="278.70" cy="730.80" r="1.5" fill="#fff"/>
<circle cx="278.70" cy="732.50" r="1.5" fill="#fff"/>
<circle cx="278.70" cy="734.19" r="1.5" fill="#fff"/>
<circle cx="278.70" cy="736.73" r="1.5" fill="#fff"/>
<circle cx="278.70" cy="741.81" r="1.5" fill="#22B422"/>
<circle cx="278.70" cy="744.35" r="1.5" fill="#22B422"/>
<circle cx="278.70" cy="748.93" r="1.5" fill="#22B422"/>
</g>
<g stroke="#F2484B" stroke-width="1.75" fill="none">
<line x1="291.30" y1="727.75" x2="291.30" y2="732.84"/>
<line x1="291.30" y1="748.08" x2="291.30" y2="751.47"/>
<rect x="287.95" y="732.84" width="6.70" height="15.25" fill="#fff"/>
<line x1="287.95" y1="740.97" x2="294.65" y2="740.97"/>
</g>
<g stroke="#000" stroke-width="0.9" fill="none">
<circle cx="291.30" cy="727.75" r="1.5" fill="#F2484B"/>
<circle cx="291.30" cy="730.80" r="1.5" fill="#F2484B"/>
<circle cx="291.30" cy="734.19" r="1.5" fill="#fff"/>
<circle cx="291.30" cy="739.27" r="1.5" fill="#fff"/>
<circle cx="291.30" cy="740.97" r="1.5" fill="#fff"/>
<circle cx="291.30" cy="742.66" r="1.5" fill="#fff"/>
<circle cx="291.30" cy="745.20" r="1.5" fill="#fff"/>
<circle cx="291.30" cy="749.44" r="1.5" fill="#F2484B"/>
<circle cx="291.30" cy="751.47" r="1.5" fill="#F2484B"/>
</g>
<g stroke="#22B422" stroke-width="1.75" fill="none">
<line x1="312.20" y1="741.81" x2="312.20" y2="754.18"/>
<line x1="312.20" y1="764.17" x2="312.20" y2="777.89"/>
<rect x="308.85" y="754.18" width="6.70" height="9.99" fill="#fff"/>
<line x1="308.85" y1="759.60" x2="315.55" y2="759.60"/>
</g>
<g stroke="#000" stroke-width="0.9" fill="none">
<circle cx="312.20" cy="741.81" r="1.5" fill="#22B422"/>
<circle cx="312.20" cy="750.28" r="1.5" fill="#22B422"/>
<circle cx="312.20" cy="754.52" r="1.5" fill="#fff"/>
<circle cx="312.20" cy="757.06" r="1.5" fill="#fff"/>
<circle cx="312.20" cy="759.60" r="1.5" fill="#fff"/>
<circle cx="312.20" cy="762.14" r="1.5" fill="#fff"/>
<circle cx="312.20" cy="764.68" r="1.5" fill="#22B422"/>
<circle cx="312.20" cy="769.76" r="1.5" fill="#22B422"/>
<circle cx="312.20" cy="774.00" r="1.5" fill="#22B422"/>
<circle cx="312.20" cy="777.89" r="1.5" fill="#22B422"/>
</g>
<g stroke="#F2484B" stroke-width="1.75" fill="none">
<line x1="324.80" y1="748.25" x2="324.80" y2="758.41"/>
<line x1="324.80" y1="797.21" x2="324.80" y2="812.96"/>
<rect x="321.45" y="758.41" width="6.70" height="38.79" fill="#fff"/>
<line x1="321.45" y1="770.61" x2="328.15" y2="770.61"/>
</g>
<g stroke="#000" stroke-width="0.9" fill="none">
<circle cx="324.80" cy="748.25" r="1.5" fill="#F2484B"/>
<circle cx="324.80" cy="754.52" r="1.5" fill="#F2484B"/>
<circle cx="324.80" cy="756.21" r="1.5" fill="#F2484B"/>
<circle cx="324.80" cy="762.99" r="1.5" fill="#fff"/>
<circle cx="324.80" cy="765.53" r="1.5" fill="#fff"/>
<circle cx="324.80" cy="768.92" r="1.5" fill="#fff"/>
<circle cx="324.80" cy="771.46" r="1.5" fill="#fff"/>
<circle cx="324.80" cy="783.65" r="1.5" fill="#fff"/>
<circle cx="324.80" cy="795.17" r="1.5" fill="#fff"/>
<circle cx="324.80" cy="798.22" r="1.5" fill="#F2484B"/>
<circle cx="324.80" cy="812.96" r="1.5" fill="#F2484B"/>
</g>
<g stroke="#000" stroke-width="1.6" fill="none" stroke-linecap="butt">
<line x1="103.05" y1="688.98" x2="103.05" y2="844.25"/>
<line x1="103.05" y1="843.45" x2="334.70" y2="843.45"/>
<line x1="96.95" y1="843.45" x2="103.05" y2="843.45"/>
<line x1="96.95" y1="792.23" x2="103.05" y2="792.23"/>
<line x1="96.95" y1="741.00" x2="103.05" y2="741.00"/>
<line x1="96.95" y1="689.78" x2="103.05" y2="689.78"/>
<line x1="117.50" y1="843.45" x2="117.50" y2="849.85"/>
<line x1="151.00" y1="843.45" x2="151.00" y2="849.85"/>
<line x1="184.50" y1="843.45" x2="184.50" y2="849.85"/>
<line x1="218.00" y1="843.45" x2="218.00" y2="849.85"/>
<line x1="251.50" y1="843.45" x2="251.50" y2="849.85"/>
<line x1="285.00" y1="843.45" x2="285.00" y2="849.85"/>
<line x1="318.50" y1="843.45" x2="318.50" y2="849.85"/>
</g>
<text x="94.15" y="848.07" font-size="14.3" fill="#000" text-anchor="end" stroke="#000" stroke-width="0.25">0</text>
<text x="94.15" y="796.84" font-size="14.3" fill="#000" text-anchor="end" stroke="#000" stroke-width="0.25">5</text>
<text x="94.15" y="745.62" font-size="14.3" fill="#000" text-anchor="end" stroke="#000" stroke-width="0.25">10</text>
<text x="94.15" y="694.39" font-size="14.3" fill="#000" text-anchor="end" stroke="#000" stroke-width="0.25">15</text>
<text transform="translate(121.50,863.05) rotate(-45)" font-size="14.5" text-anchor="end" fill="#000" stroke="#000" stroke-width="0.25">IL-1b</text>
<text transform="translate(155.00,863.05) rotate(-45)" font-size="14.5" text-anchor="end" fill="#000" stroke="#000" stroke-width="0.25">IL-6</text>
<text transform="translate(188.50,863.05) rotate(-45)" font-size="14.5" text-anchor="end" fill="#000" stroke="#000" stroke-width="0.25">IL-17A</text>
<text transform="translate(222.00,863.05) rotate(-45)" font-size="14.5" text-anchor="end" fill="#000" stroke="#000" stroke-width="0.25">IL-23</text>
<text transform="translate(255.50,863.05) rotate(-45)" font-size="14.5" text-anchor="end" fill="#000" stroke="#000" stroke-width="0.25">IL-21</text>
<text transform="translate(289.00,863.05) rotate(-45)" font-size="14.5" text-anchor="end" fill="#000" stroke="#000" stroke-width="0.25">IL-22</text>
<text transform="translate(322.50,863.05) rotate(-45)" font-size="14.5" text-anchor="end" fill="#000" stroke="#000" stroke-width="0.25">GM-CSF</text>
<path d="M279.30,712.50 V705.00 H291.80 V712.50" fill="none" stroke="#000" stroke-width="1.65" stroke-linejoin="miter"/>
<text x="285.80" y="702.34" font-size="14.5" fill="#000" font-weight="bold" text-anchor="middle" stroke="#000" stroke-width="0.4" font-family="'DejaVu Sans', sans-serif">*</text>
<path d="M312.50,733.80 V726.70 H324.30 V733.80" fill="none" stroke="#000" stroke-width="1.65" stroke-linejoin="miter"/>
<text x="318.40" y="723.54" font-size="14.5" fill="#000" font-weight="bold" text-anchor="middle" stroke="#000" stroke-width="0.4" font-family="'DejaVu Sans', sans-serif">*</text>
<text transform="translate(42.40,765.20) rotate(-90)" font-size="17" text-anchor="middle" fill="#000" stroke="#000" stroke-width="0.25" textLength="168.5" lengthAdjust="spacingAndGlyphs">Cytokine concentration</text>
<text transform="translate(65.00,762.90) rotate(-90)" font-size="17" text-anchor="middle" fill="#000" stroke="#000" stroke-width="0.25" textLength="52.6" lengthAdjust="spacingAndGlyphs">(Log 2)</text>
<rect x="369.3" y="697.6" width="14.6" height="6.7" fill="#fff" stroke="#22B422" stroke-width="1.5"/>
<rect x="369.3" y="718.4" width="14.6" height="6.7" fill="#fff" stroke="#F2484B" stroke-width="1.5"/>
<text x="394.30" y="705.70" font-size="12.4" fill="#000">S loss</text>
<text x="394.30" y="726.70" font-size="12.4" fill="#000">No S loss</text>
</svg>
</body>
</html>
